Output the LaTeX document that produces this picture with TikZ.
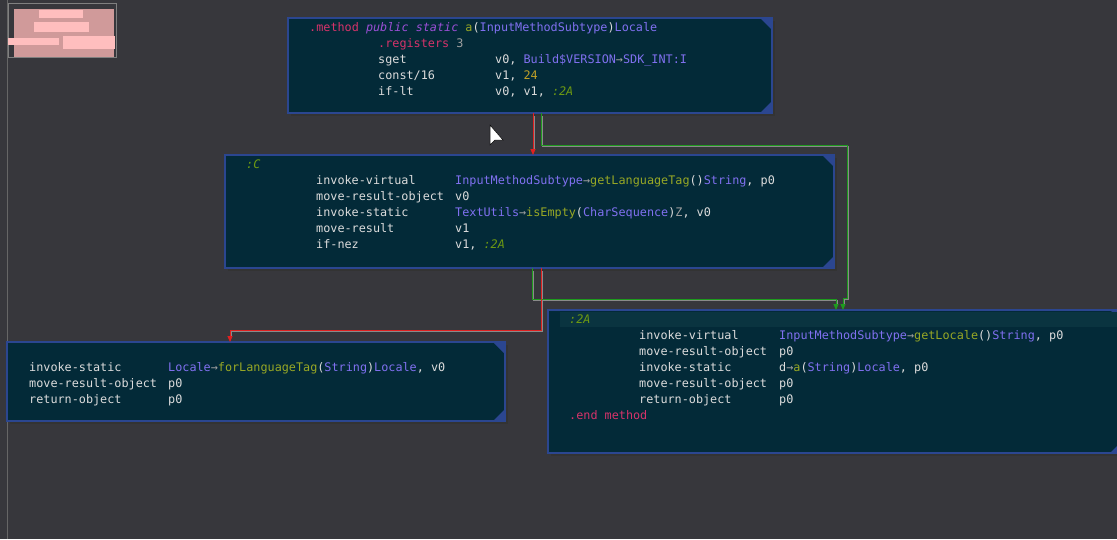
\documentclass[tikz,border=0pt]{standalone}
\usepackage{fontspec}
\setmainfont{DejaVu Sans Mono}
\usetikzlibrary{arrows.meta}
\definecolor{bg}{HTML}{37373C}
\definecolor{boxfill}{HTML}{032A38}
\definecolor{boxline}{HTML}{2B4690}
\definecolor{kw}{HTML}{D6336A}
\definecolor{pur}{HTML}{9B4FD6}
\definecolor{cls}{HTML}{8070F0}
\definecolor{meth}{HTML}{98A825}
\definecolor{num}{HTML}{C0A028}
\definecolor{lbl}{HTML}{6E9A12}
\definecolor{fg}{HTML}{DCDCDC}
\definecolor{arr}{HTML}{A0A0A0}
\definecolor{eg}{HTML}{1E9A1E}
\definecolor{er}{HTML}{E02020}
\definecolor{mapbg}{HTML}{D09A9A}
\definecolor{mapfg}{HTML}{FFBEBE}
\definecolor{hdr}{HTML}{0A3440}
\definecolor{edgeshadow}{HTML}{8A8A8A}
\newcommand{\K}[1]{\textcolor{kw}{#1}}
\newcommand{\C}[1]{\textcolor{cls}{#1}}
\newcommand{\M}[1]{\textcolor{meth}{#1}}
\newcommand{\A}{\textcolor{arr}{→}}
\tikzset{
  x=1pt,y=-1pt,
  txt/.style={anchor=base west,inner sep=0pt,text=fg,font=\fontsize{11.8}{14}\selectfont},
  blk/.style={fill=boxfill,draw=boxline,line width=2pt},
  shadow/.style={fill=black!80},
  edge/.style={line width=1pt,-{Triangle[length=6pt,width=5pt]}},
  eshadow/.style={edgeshadow,line width=0.5pt},
}
\newcommand{\blockbox}[5]{% name x1 y1 x2 y2
  \fill[shadow] (#2+3,#3+3) rectangle (#4+3,#5+3);
  \draw[blk] (#2,#3) rectangle (#4,#5);
  \fill[boxline] (#4-1,#3+1) -- (#4-11,#3+1) -- (#4-1,#3+11) -- cycle;
  \fill[boxline] (#4-1,#5-1) -- (#4-11,#5-1) -- (#4-1,#5-11) -- cycle;
  \coordinate (#1) at (#2,#3);
}
\begin{document}
\begin{tikzpicture}
\fill[bg] (0,0) rectangle (1117,539);
\useasboundingbox (0,0) rectangle (1117,539);
\draw[black!60,line width=1pt] (7,0) -- (7,539);
% minimap
\draw[black!50,line width=1pt] (8,3) rectangle (116,57);
\fill[mapbg] (14,9) rectangle (114,57);
\fill[mapfg] (39,10) rectangle (83,18);
\fill[mapfg] (34,22) rectangle (89,32);
\fill[mapfg] (8,38) rectangle (59,45);
\fill[mapfg] (63,36) rectangle (115,49);
% edges (shadows)
\draw[eshadow] (534.5,113) -- (534.5,150);
\draw[eshadow] (542.5,113) -- (542.5,146.5) -- (848.5,146.5) -- (848.5,299.5) -- (844.5,299.5) -- (844.5,305);
\draw[eshadow] (542.5,268) -- (542.5,331.5) -- (231.5,331.5) -- (231.5,337);
\draw[eshadow] (533.5,268) -- (533.5,300.5) -- (837.5,300.5) -- (837.5,305);
% blocks
\blockbox{b1}{288}{18}{772}{113}
\blockbox{b2}{225}{155}{834}{268}
\blockbox{b3}{7}{342}{505}{421}
\blockbox{b4}{548}{310}{1122}{453}
\fill[hdr] (560,312) rectangle (1117,327);
% connectors
\coordinate (e1a) at (533,113); \coordinate (e1b) at (533,155);
\draw[edge,er] (e1a) -- (e1b);
\coordinate (e2a) at (541,113); \coordinate (e2b) at (843,310);
\draw[edge,eg] (e2a) -- (541,145) -- (847,145) -- (847,298) -- (843,298) -- (e2b);
\coordinate (e3a) at (532,268); \coordinate (e3b) at (836,310);
\draw[edge,eg] (e3a) -- (532,299) -- (836,299) -- (e3b);
\coordinate (e4a) at (541,268); \coordinate (e4b) at (230,342);
\draw[edge,er] (e4a) -- (541,330) -- (230,330) -- (e4b);
% cursor
\fill[white,draw=black,line width=0.5pt] (490,125) -- (490,145) -- (495,140) -- (503,140) -- cycle;
% block 1 text
\node[txt] (t11) at (309,31) {\K{.method} \textcolor{pur}{\itshape public static} \M{a}(\C{InputMethodSubtype})\C{Locale}};
\node[txt] (t12) at (378,47) {\K{.registers} \textcolor{arr}{3}};
\node[txt] (t13) at (378,63) {sget};
\node[txt] (t14) at (378,79) {const/16};
\node[txt] (t15) at (378,95) {if-lt};
\node[txt] (t16) at (495,63) {v0, \C{Build\$VERSION}\A\C{SDK\_INT:I}};
\node[txt] (t17) at (495,79) {v1, \textcolor{num}{24}};
\node[txt] (t18) at (495,95) {v0, v1, \textcolor{lbl}{\itshape :2A}};
% block 2 text
\node[txt] (t21) at (246,168) {\textcolor{lbl}{\itshape :C}};
\node[txt] (t22) at (316,184) {invoke-virtual};
\node[txt] (t23) at (316,200) {move-result-object};
\node[txt] (t24) at (316,216) {invoke-static};
\node[txt] (t25) at (316,232) {move-result};
\node[txt] (t26) at (316,248) {if-nez};
\node[txt] (t27) at (455,184) {\C{InputMethodSubtype}\A\M{getLanguageTag}()\C{String}, p0};
\node[txt] (t28) at (455,200) {v0};
\node[txt] (t29) at (455,216) {\C{TextUtils}\A\M{isEmpty}(\C{CharSequence})\textcolor{arr}{Z}, v0};
\node[txt] (t2a) at (455,232) {v1};
\node[txt] (t2b) at (455,248) {v1, \textcolor{lbl}{\itshape :2A}};
% block 3 text
\node[txt] (t31) at (29,371) {invoke-static};
\node[txt] (t32) at (29,387) {move-result-object};
\node[txt] (t33) at (29,403) {return-object};
\node[txt] (t34) at (168,371) {\C{Locale}\A\M{forLanguageTag}(\C{String})\C{Locale}, v0};
\node[txt] (t35) at (168,387) {p0};
\node[txt] (t36) at (168,403) {p0};
% block 4 text
\node[txt] (t41) at (569,323) {\textcolor{lbl}{\itshape :2A}};
\node[txt] (t42) at (639,339) {invoke-virtual};
\node[txt] (t43) at (639,355) {move-result-object};
\node[txt] (t44) at (639,371) {invoke-static};
\node[txt] (t45) at (639,387) {move-result-object};
\node[txt] (t46) at (639,403) {return-object};
\node[txt] (t47) at (779,339) {\C{InputMethodSubtype}\A\M{getLocale}()\C{String}, p0};
\node[txt] (t48) at (779,355) {p0};
\node[txt] (t49) at (779,371) {d\A\M{a}(\C{String})\C{Locale}, p0};
\node[txt] (t4a) at (779,387) {p0};
\node[txt] (t4b) at (779,403) {p0};
\node[txt] (t4c) at (569,419) {\K{.end method}};
\end{tikzpicture}
\end{document}
